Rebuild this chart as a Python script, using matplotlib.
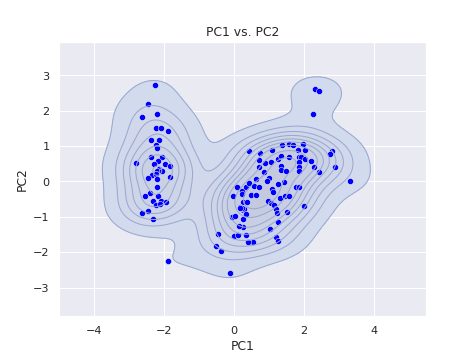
import matplotlib
matplotlib.use("Agg")
import matplotlib.pyplot as plt
from matplotlib.colors import LinearSegmentedColormap
import seaborn as sns
import numpy as np

pc1_left = [-2.25, -2.45, -2.62, -2.2, -2.22, -2.08, -1.89, -2.37, -2.15, -2.24, -2.21, -2.38, -2.05,
            -2.79, -2.16, -2.28, -1.98, -1.82, -2.15, -2.2, -2.06, -2.34, -2.24, -2.45, -1.83, -2.21,
            -2.2, -2.39, -2.54, -2.18, -2.31, -2.08, -1.95, -2.24, -2.11, -2.64, -2.45, -2.33, -1.88]
pc2_left = [2.72, 2.2, 1.83, 1.9, 1.5, 1.5, 1.43, 1.16, 1.18, 1.03, 0.96, 0.70, 0.69,
            0.51, 0.58, 0.48, 0.5, 0.45, 0.34, 0.3, 0.29, 0.19, 0.21, 0.11, 0.13, 0.07,
            -0.16, -0.32, -0.42, -0.41, -0.54, -0.56, -0.57, -0.66, -0.64, -0.9, -0.83, -1.05, -2.26]

pc1_right = [2.31, 2.44, 2.26,
             0.43, 0.75, 1.09, 1.36, 1.58, 1.70, 1.98, 1.83, 2.03, 2.80, 2.75,
             0.73, 0.88, 1.06, 1.25, 1.35, 1.57, 1.85, 1.92, 2.02, 2.20, 1.86, 2.28, 2.44, 2.88,
             0.73, 0.86, 1.34, 1.35, 1.49, 1.86, 1.86,
             0.63, 0.99, 0.94, 1.25, 1.43, 1.78, 1.86,
             0.08, 0.22, 0.35, 0.44, 0.58, 0.71, 0.48, 0.62, 0.22, -0.04,
             1.08, 1.13, 1.32, 1.47, 1.58,
             0.97, 1.06, 1.15, 1.21, 1.23, 1.99, 3.31,
             0.25, 0.36, 0.17, 0.27, 0.30, 0.22, 0.16,
             1.53, 1.25, 1.03, 1.21, 1.25,
             0.55, 0.39, 0.35, 0.01, 0.12, -0.46, -0.51, -0.37, -0.12,
             0.26, 0.14, 0.27, -0.05, 0.02, 0.33]
pc2_right = [2.61, 2.55, 1.91,
             0.86, 0.80, 0.89, 1.02, 1.07, 1.02, 1.05, 0.89, 0.89, 0.87, 0.78,
             0.62, 0.53, 0.55, 0.63, 0.71, 0.70, 0.68, 0.68, 0.64, 0.57, 0.55, 0.42, 0.26, 0.42,
             0.41, 0.27, 0.44, 0.32, 0.29, 0.41, 0.29,
             0.06, 0.09, 0.01, -0.06, -0.02, -0.16, -0.16,
             -0.15, -0.26, -0.15, -0.04, -0.12, -0.15, -0.37, -0.37, -0.36, -0.40,
             -0.21, -0.30, -0.46, -0.41, -0.40,
             -0.55, -0.60, -0.66, -0.79, -0.89, -0.69, 0.02,
             -0.59, -0.57, -0.72, -0.82, -0.78, -0.74, -0.76,
             -0.86, -1.14, -1.35, -1.57, -1.67,
             -1.72, -1.70, -1.52, -1.53, -1.51, -1.49, -1.81, -1.96, -2.59,
             -1.28, -1.25, -1.07, -1.00, -0.97, -0.93]

pc1 = np.array(pc1_left + pc1_right)
pc2 = np.array(pc2_left + pc2_right)

sns.set_theme(style="darkgrid")
fig, ax = plt.subplots(figsize=(6.4, 4.8), dpi=74)

fill_cmap = LinearSegmentedColormap.from_list("fillc", ["#d3dbef", "#c3c9dc"])
sns.kdeplot(x=pc1, y=pc2, fill=True, cmap=fill_cmap, bw_adjust=0.9, ax=ax)
sns.kdeplot(x=pc1, y=pc2, color="#9aa9cf", linewidths=1, bw_adjust=0.9, ax=ax)
sns.scatterplot(x=pc1, y=pc2, color="blue", edgecolor="white", ax=ax)

ax.set_xlim(-5.0, 5.5)
ax.set_ylim(-3.8, 3.93)
ax.set_title("PC1 vs. PC2")
ax.set_xlabel("PC1")
ax.set_ylabel("PC2")

fig.savefig("out.png", dpi=74)
